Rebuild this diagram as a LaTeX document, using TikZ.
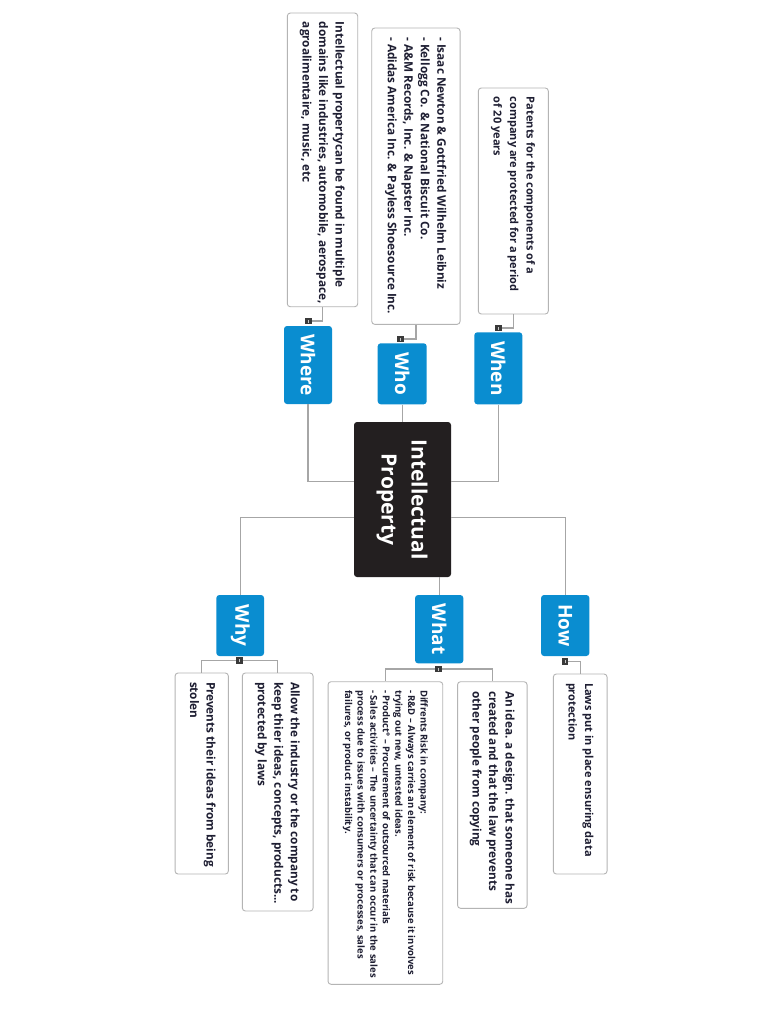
\documentclass[tikz,border=0pt]{standalone}
\usepackage{fontspec}
\setmainfont{Open Sans}
\usepackage{graphicx}
\definecolor{ipblue}{HTML}{0A8DD0}
\definecolor{ipdark}{HTML}{231F20}
\definecolor{linegray}{HTML}{A6A6A6}
\definecolor{boxgray}{HTML}{B4B4B4}
\definecolor{txtcol}{HTML}{1E1E32}
\definecolor{markcol}{HTML}{3A3A3A}
\newcommand{\rotpar}[2]{\rotatebox{-90}{\makebox[#1][l]{\begin{tabular}{@{}l@{}}#2\end{tabular}}}}
\tikzset{
  topic/.style={fill=ipblue, rounded corners=3pt, inner sep=0pt, text=white,
    font=\bfseries\fontsize{19}{22}\selectfont},
  central/.style={fill=ipdark, rounded corners=3pt, inner sep=0pt, text=white,
    font=\bfseries\fontsize{21}{30}\selectfont},
  leaf/.style={draw=boxgray, line width=0.9pt, fill=white, rounded corners=3pt,
    inner sep=0pt, text=txtcol, font=\bfseries\fontsize{11.8}{16.5}\selectfont},
  leafsm/.style={leaf, font=\bfseries\fontsize{11}{16.5}\selectfont},
  smallleaf/.style={leaf, font=\bfseries\fontsize{9.5}{12.6}\selectfont},
  marker/.style={fill=markcol, minimum size=6.5pt, inner sep=0pt,
    path picture={\draw[gray!45, line width=0.5pt]
      ([yshift=-1.5pt]path picture bounding box.center) --
      ([yshift=1.5pt]path picture bounding box.center);}},
  conn/.style={draw=linegray, line width=1.2pt}
}
\begin{document}
\begin{tikzpicture}[x=1pt,y=1pt]
\useasboundingbox[fill=white] (0,0) rectangle (768,-1024);

% central
\node[central, minimum width=97pt, minimum height=155pt] (c) at (402.5,-499.5)
  {\rotatebox{-90}{\begin{tabular}{@{}c@{}}Intellectual\\Property\end{tabular}}};

% topics
\node[topic, minimum width=48pt, minimum height=78pt] (where) at (308,-365) {\rotatebox{-90}{Where}};
\node[topic, minimum width=49pt, minimum height=61pt] (who) at (402.2,-373.8) {\rotatebox{-90}{Who}};
\node[topic, minimum width=48pt, minimum height=72pt] (when) at (498.3,-368.3) {\rotatebox{-90}{When}};
\node[topic, minimum width=47.7pt, minimum height=61pt] (why) at (240.2,-625.5) {\rotatebox{-90}{Why}};
\node[topic, minimum width=48.3pt, minimum height=68.3pt] (what) at (439.2,-629.2) {\rotatebox{-90}{What}};
\node[topic, minimum width=48.3pt, minimum height=61pt] (how) at (565.2,-625.5) {\rotatebox{-90}{How}};

% leaves
\node[leaf, minimum width=70.4pt, minimum height=293.7pt] (wherec) at (322.5,-159.9)
  {\rotpar{276pt}{Intellectual propertycan be found in multiple\\domains like industries, automobile, aerospace,\\agroalimentaire, music, etc}};
\node[leaf, minimum width=88.3pt, minimum height=296.3pt] (whoc) at (415.9,-176.2)
  {\rotpar{278pt}{- Isaac Newton \& Gottfried Wilhelm Leibniz\\- Kellogg Co. \& National Biscuit Co.\\- A\&M Records, Inc. \& Napster Inc.\\- Adidas America Inc. \& Payless Shoesource Inc.}};
\node[leafsm, minimum width=70pt, minimum height=226pt] (whenc) at (513.3,-201)
  {\rotpar{208pt}{Patents for the components of a\\company are protected for a period\\of 20 years}};
\node[leafsm, minimum width=53.7pt, minimum height=200pt] (howc) at (580.2,-774)
  {\rotpar{182pt}{Laws put in place ensuring data\\protection}};
\node[leaf, minimum width=69.5pt, minimum height=226.6pt] (ideac) at (492.3,-795)
  {\rotpar{208pt}{An idea. a design. that someone has\\created and that the law prevents\\other people from copying}};
\node[smallleaf, minimum width=114.7pt, minimum height=302.6pt] (diffc) at (385.4,-833)
  {\rotpar{286pt}{Diffrents Risk in company:\\- R\&D – Always carries an element of risk because it involves\\trying out new, untested ideas.\\- Product° – Procurement of outsourced materials\\- Sales activities – The uncertainty that can occur in the sales\\process due to issues with consumers or processes, sales\\failures, or product instability.}};
\node[leaf, minimum width=70.7pt, minimum height=238pt] (allowc) at (277.7,-792)
  {\rotpar{220pt}{Allow the industry or the company to\\keep thier ideas, concepts, products...\\protected by laws}};
\node[leaf, minimum width=53.3pt, minimum height=201pt] (prevc) at (201.7,-773.5)
  {\rotpar{183pt}{Prevents their ideas from being\\stolen}};

% markers
\node[marker] (wherem) at (308.3,-321) {};
\node[marker] (whom) at (400.7,-339) {};
\node[marker] (whenm) at (498.3,-328) {};
\node[marker] (whym) at (239.3,-660.5) {};
\node[marker] (whatm) at (438.3,-669) {};
\node[marker] (howm) at (565,-661.5) {};

% connectors central-topics
\draw[conn] (where.south) |- ([yshift=18pt]c.west);
\draw[conn] (who.south) -- (who.south |- c.north);
\draw[conn] (when.south) |- ([yshift=18pt]c.east);
\draw[conn] (why.north) |- ([yshift=-18pt]c.west);
\draw[conn] (what.north) -- (what.north |- c.south);
\draw[conn] (how.north) |- ([yshift=-18pt]c.east);

% connectors topics-leaves
\draw[conn] (wherec.south) |- (wherem);
\draw[conn] (whoc.south) |- (whom);
\draw[conn] (whenc.south) |- (whenm);
\draw[conn] (whym) -| (prevc.north);
\draw[conn] (whym) -| (allowc.north);
\draw[conn] (whatm) -| (diffc.north);
\draw[conn] (whatm) -| (ideac.north);
\draw[conn] (howm) -| (howc.north);
\end{tikzpicture}
\end{document}
